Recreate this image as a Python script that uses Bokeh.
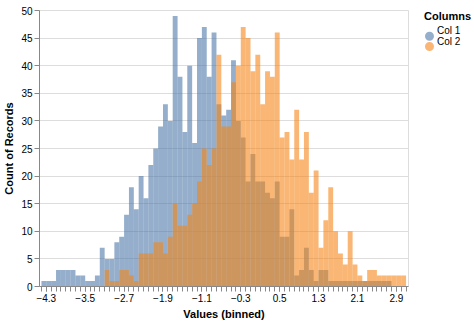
from bokeh.plotting import figure
from bokeh.layouts import row
from bokeh.models import FixedTicker, Legend, LegendItem, Range1d, ColumnDataSource
from bokeh.embed import file_html
from bokeh.resources import INLINE
import numpy as np

bin_width = 0.1
col1_first_bin = -4.4
col1_counts = [1, 1, 1, 3, 3, 3, 3, 2, 2, 1,
               1, 2, 7, 5, 5, 8, 9, 13, 18, 14,
               20, 16, 22, 25, 29, 33, 30, 49, 38, 28,
               40, 26, 45, 47, 38, 46, 33, 31, 32, 41,
               30, 27, 19, 24, 19, 19, 17, 16, 19, 9,
               9, 14, 2, 3, 7, 3, 1, 3, 3, 1,
               1, 1, 1, 1, 1, 1, 1, 1, 1, 1, 1, 1]
col2_first_bin = -3.1
col2_counts = [3, 1, 1, 3, 3, 2, 1, 6, 6, 6,
               8, 8, 6, 9, 15, 11, 11, 13, 15, 19,
               25, 22, 25, 42, 29, 29, 37, 40, 47, 45,
               39, 42, 33, 39, 38, 46, 27, 28, 23, 32,
               23, 28, 17, 21, 7, 12, 18, 10, 6, 4,
               10, 4, 2, 1, 3, 3, 2, 2, 2, 2,
               2, 2]
series_names = ["Col 1", "Col 2"]
series_colors = ["#4c78a8", "#f58518"]
x_tick_values = [-4.3, -3.5, -2.7, -1.9, -1.1, -0.3, 0.5, 1.3, 2.1, 2.9]
y_tick_values = [0, 5, 10, 15, 20, 25, 30, 35, 40, 45, 50]


def bin_source(first, counts):
    left = np.round(first + bin_width * np.arange(len(counts)), 2)
    return ColumnDataSource(dict(left=left, right=left + bin_width,
                                 top=counts, bottom=[0] * len(counts)))


p = figure(width=409, height=322, output_backend="svg", toolbar_location=None,
           min_border_left=37, min_border_right=1, min_border_top=10,
           min_border_bottom=34,
           x_range=Range1d(-4.44, 3.15), y_range=Range1d(0, 50))
p.background_fill_color = "white"
p.border_fill_color = "white"
p.outline_line_color = "#dddddd"

alpha = 0.6
sources = [bin_source(col1_first_bin, col1_counts), bin_source(col2_first_bin, col2_counts)]
for src, c in zip(sources, series_colors):
    p.quad(left="left", right="right", top="top", bottom="bottom", source=src,
           fill_color=c, fill_alpha=alpha, line_color=None)

# axes
p.xgrid.grid_line_color = None
p.ygrid.grid_line_color = "#dddddd"
p.ygrid.ticker = FixedTicker(ticks=y_tick_values)

minor = [round(v, 1) for v in np.arange(-4.4, 3.11, bin_width)]
p.xaxis.ticker = FixedTicker(ticks=x_tick_values, minor_ticks=minor)
p.xaxis.major_label_overrides = {v: f"{v:.1f}".replace("-", "\u2212") for v in x_tick_values}
p.yaxis.ticker = FixedTicker(ticks=y_tick_values)

for ax in (p.xaxis[0], p.yaxis[0]):
    ax.axis_line_color = "#888888"
    ax.major_tick_line_color = "#888888"
    ax.minor_tick_line_color = "#888888"
    ax.major_tick_out = 5
    ax.major_tick_in = 0
    ax.minor_tick_out = 5
    ax.minor_tick_in = 0
    ax.major_label_text_font = "Liberation Sans"
    ax.major_label_text_font_size = "10px"
    ax.major_label_text_color = "#000000"
    ax.axis_label_text_font = "Liberation Sans"
    ax.axis_label_text_font_size = "11px"
    ax.axis_label_text_font_style = "bold"
    ax.axis_label_text_color = "#000000"
    ax.major_label_standoff = 2
    ax.axis_label_standoff = 3

p.yaxis.minor_tick_line_color = None
p.xaxis.axis_label = "Values (binned)"
p.yaxis.axis_label = "Count of Records"

# legend panel: its ranges are in pixels of the panel (y measured from the top)
lg = figure(width=65, height=322, output_backend="svg", toolbar_location=None,
            min_border_left=15, min_border_right=0, min_border_top=0, min_border_bottom=0,
            x_range=Range1d(0, 50), y_range=Range1d(322, 0))
lg.axis.visible = False
lg.grid.visible = False
lg.outline_line_color = None
lg.background_fill_color = "white"
lg.border_fill_color = "white"

glyph_box = 10
row_centers = [30, 42]
items = []
for name, c in zip(series_names, series_colors):
    r = lg.scatter(x=[-100], y=[-100], marker="circle", size=9, fill_color=c,
                   fill_alpha=0, line_alpha=0)
    items.append(LegendItem(label=name, renderers=[r]))

# larger legend symbols, drawn where the legend keeps its glyph slots
lg.scatter(x=[glyph_box / 2] * len(series_colors), y=row_centers, marker="circle",
           size=9, fill_color=series_colors, fill_alpha=alpha, line_color=None)

legend = Legend(items=items, title="Columns", location="top_left",
                title_text_font_style="bold", title_text_font_size="11px",
                title_text_font="Liberation Sans", title_text_color="#000000",
                label_text_font="Liberation Sans", label_text_font_size="10px",
                label_text_color="#000000", glyph_width=glyph_box, glyph_height=glyph_box,
                label_standoff=3, spacing=0, padding=0, margin=0, title_standoff=3,
                border_line_color=None, background_fill_alpha=0)
lg.add_layout(legend, "center")

open("out.html", "w").write(file_html(row(p, lg), INLINE))
